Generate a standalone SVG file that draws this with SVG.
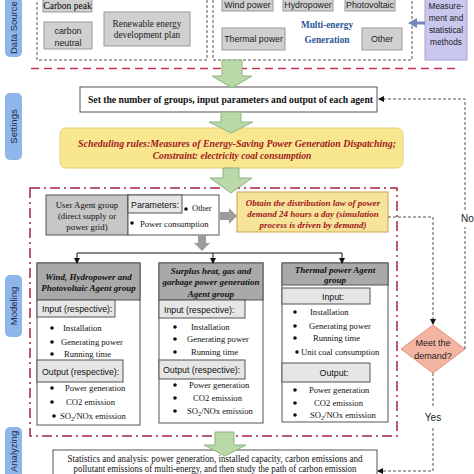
<svg xmlns="http://www.w3.org/2000/svg" width="474" height="474" viewBox="0 0 474 474">
<defs>
<style>
.serif{font-family:"Liberation Serif","Times New Roman",serif;}
.sans{font-family:"Liberation Sans",Arial,sans-serif;}
.side{fill:#8fb6ea;}
.sidet{font-family:"Liberation Sans",Arial,sans-serif;font-size:9.5px;fill:#1c2c48;}
.gbox{fill:#d0d0d0;stroke:#9a9a9a;stroke-width:1;}
.dot{fill:none;stroke:#555;stroke-width:1;stroke-dasharray:3,2;}
.green{fill:#b9d9a9;stroke:#8fb482;stroke-width:1;}
.grayarr{fill:#9c9c9c;}
.grp{fill:#fff;stroke:#555;stroke-width:1;}
.hdr{fill:#a9a9a9;stroke:#555;stroke-width:1;}
.lbl{fill:#e6e6e6;stroke:#555;stroke-width:1;}
.hdrt{font-family:"Liberation Serif","Times New Roman",serif;font-size:9px;font-weight:bold;font-style:italic;fill:#111;}
.lblt{font-family:"Liberation Sans",Arial,sans-serif;font-size:8.8px;fill:#111;}
.it{font-family:"Liberation Serif","Times New Roman",serif;font-size:8.6px;fill:#111;}
.red{font-family:"Liberation Serif","Times New Roman",serif;font-weight:bold;font-style:italic;fill:#a3171c;}
.fb{fill:none;stroke:#555;stroke-width:1;stroke-dasharray:3,2;}
</style>
<marker id="ah" markerWidth="6" markerHeight="6" refX="5" refY="3" orient="auto" markerUnits="userSpaceOnUse">
<path d="M0,0 L6,3 L0,6 Z" fill="#111"/>
</marker>
</defs>
<rect width="474" height="474" fill="#fff"/>

<!-- sidebars -->
<g id="side-data"><rect class="side" x="5" y="-10" width="17" height="67" rx="5"/><text class="sidet" transform="translate(16.5,54) rotate(-90)">Data Source</text></g>
<g id="side-settings"><rect class="side" x="5" y="93" width="17" height="67" rx="5"/><text class="sidet" text-anchor="middle" transform="translate(16.5,126.5) rotate(-90)">Settings</text></g>
<g id="side-modeling"><rect class="side" x="5" y="275" width="17" height="62" rx="5"/><text class="sidet" text-anchor="middle" transform="translate(16.5,306) rotate(-90)">Modeling</text></g>
<g id="side-analyzing"><rect class="side" x="5" y="427" width="17" height="60" rx="5"/><text class="sidet" transform="translate(16.5,472) rotate(-90)">Analyzing</text></g>

<!-- data sources -->
<g id="policy-group">
<rect class="dot" x="37" y="-5" width="170" height="65"/>
<g id="carbon-peak"><rect class="gbox" x="43" y="-5" width="49" height="17"/><text class="serif" x="67.5" y="8.5" font-size="9.5" text-anchor="middle">Carbon peak</text></g>
<g id="carbon-neutral"><rect class="gbox" x="44" y="22" width="48" height="27"/><text class="sans" x="68" y="34" font-size="8.8" text-anchor="middle" fill="#222">carbon</text><text class="sans" x="68" y="46" font-size="8.8" text-anchor="middle" fill="#222">neutral</text></g>
<g id="renewable-plan"><rect class="gbox" x="104" y="12" width="86" height="34"/><text class="serif" x="147" y="27" font-size="9.3" text-anchor="middle" fill="#222">Renewable energy</text><text class="serif" x="147" y="38" font-size="9.3" text-anchor="middle" fill="#222">development plan</text></g>
</g>
<g id="multi-energy">
<rect class="dot" x="213" y="-5" width="199" height="65"/>
<g id="wind"><rect class="gbox" x="222" y="-5" width="51" height="16"/><text class="sans" x="247.5" y="8.3" font-size="8.8" text-anchor="middle" fill="#222">Wind power</text></g>
<g id="hydro"><rect class="gbox" x="283" y="-5" width="50" height="16"/><text class="sans" x="308" y="8.3" font-size="8.8" text-anchor="middle" fill="#222">Hydropower</text></g>
<g id="pv"><rect class="gbox" x="345" y="-5" width="50" height="16"/><text class="sans" x="370" y="8.3" font-size="8.8" text-anchor="middle" fill="#222">Photovoltaic</text></g>
<g id="thermal"><rect class="gbox" x="222" y="28" width="63" height="22"/><text class="sans" x="253.5" y="42" font-size="8.8" text-anchor="middle" fill="#222">Thermal power</text></g>
<g id="other"><rect class="gbox" x="362" y="28" width="40" height="22"/><text class="sans" x="382" y="42" font-size="8.8" text-anchor="middle" fill="#222">Other</text></g>
<text class="serif" x="327" y="28" font-size="9.3" font-weight="bold" text-anchor="middle" fill="#2b5797">Multi-energy</text>
<text class="serif" x="327" y="43" font-size="9.3" font-weight="bold" text-anchor="middle" fill="#2b5797">Generation</text>
</g>
<g id="measurement"><rect x="425" y="-5" width="42" height="65" fill="#c9c7ee" stroke="#a5a2d4"/>
<text class="sans" font-size="8.3" fill="#222" text-anchor="middle"><tspan x="446" y="9">Measure-</tspan><tspan x="446" y="21">ment and</tspan><tspan x="446" y="33">statistical</tspan><tspan x="446" y="45">methods</tspan></text></g>

<line x1="31" y1="68.5" x2="460" y2="68.5" stroke="#c3344f" stroke-width="1.5" stroke-dasharray="8,5"/>

<!-- settings -->
<g id="set-box"><rect x="80" y="87" width="297" height="25" fill="#fff" stroke="#555"/>
<text class="serif" x="88" y="103" font-size="10.2" font-weight="bold" fill="#111" textLength="285" lengthAdjust="spacingAndGlyphs">Set the number of groups, input parameters and output of each agent</text></g>
<g id="rules-box"><rect x="60" y="128" width="343" height="40" rx="6" fill="#f8e78f" stroke="#e6cf78"/>
<text class="red" x="237" y="147" font-size="9.6" text-anchor="middle" textLength="318" lengthAdjust="spacingAndGlyphs">Scheduling rules:Measures of Energy-Saving Power Generation Dispatching;</text>
<text class="red" x="232" y="159" font-size="9.6" text-anchor="middle">Constraint: electricity coal consumption</text></g>

<!-- modeling -->
<rect x="30" y="188" width="367" height="248" fill="none" stroke="#a6233f" stroke-width="1.5" stroke-dasharray="10,4,2,4"/>
<g id="user-agent"><rect x="46" y="195" width="82" height="40" fill="#c6c6c6" stroke="#555"/>
<text class="serif" font-size="8.8" fill="#111" text-anchor="middle"><tspan x="87" y="208">User Agent group</tspan><tspan x="87" y="219">(direct supply or</tspan><tspan x="87" y="230">power grid)</tspan></text></g>
<g id="parameters"><rect x="128" y="195" width="91" height="40" fill="#fff" stroke="#555"/>
<rect class="lbl" x="128" y="195" width="54" height="18"/>
<text class="lblt" x="155" y="208" text-anchor="middle">Parameters:</text>
<circle cx="186" cy="209" r="1.8" fill="#111"/><text class="it" x="192" y="211" font-size="8.8">Other</text>
<circle cx="132" cy="223" r="1.8" fill="#111"/><text class="it" x="140" y="227" font-size="8.8">Power consumption</text></g>
<g id="obtain-box"><rect x="237" y="192" width="151" height="40" fill="#f6e49b" stroke="#c8a64c"/>
<text class="red" font-size="9" text-anchor="middle"><tspan x="313" y="206">Obtain the distribution law of power</tspan><tspan x="313" y="217">demand 24 hours a day (simulation</tspan><tspan x="313" y="228">process is driven by demand)</tspan></text></g>

<g id="group-wind">
<rect class="grp" x="37" y="263" width="103" height="162"/>
<rect class="hdr" x="37" y="263" width="103" height="37"/>
<text class="hdrt" text-anchor="middle"><tspan x="88.5" y="280">Wind, Hydropower and</tspan><tspan x="88.5" y="291">Photovoltaic Agent group</tspan></text>
<rect class="lbl" x="37" y="300" width="78" height="17"/><text class="lblt" x="42" y="312">Input (respective):</text>
<circle cx="52" cy="328" r="1.8" fill="#111"/><text class="it" x="63" y="331">Installation</text>
<circle cx="52" cy="342" r="1.8" fill="#111"/><text class="it" x="61" y="345">Generating power</text>
<circle cx="52" cy="354" r="1.8" fill="#111"/><text class="it" x="64" y="357">Running time</text>
<rect class="lbl" x="37" y="360" width="86" height="22"/><text class="lblt" x="42" y="375">Output (respective):</text>
<circle cx="52" cy="388" r="1.8" fill="#111"/><text class="it" x="65" y="391">Power generation</text>
<circle cx="52" cy="402" r="1.8" fill="#111"/><text class="it" x="66" y="405">CO2 emission</text>
<circle cx="54" cy="416" r="1.8" fill="#111"/><text class="it" x="60" y="419">SO<tspan font-size="6" dy="1.5">2</tspan><tspan dy="-1.5">/NOx emission</tspan></text>
</g>

<g id="group-surplus">
<rect class="grp" x="159" y="263" width="104" height="160"/>
<rect class="hdr" x="159" y="263" width="104" height="37"/>
<text class="hdrt" text-anchor="middle"><tspan x="211" y="274">Surplus heat, gas and</tspan><tspan x="211" y="285">garbage power generation</tspan><tspan x="211" y="297">Agent group</tspan></text>
<rect class="lbl" x="159" y="300" width="86" height="18"/><text class="lblt" x="164" y="313">Input (respective):</text>
<circle cx="175" cy="327" r="1.8" fill="#111"/><text class="it" x="191" y="330">Installation</text>
<circle cx="175" cy="339" r="1.8" fill="#111"/><text class="it" x="187" y="342">Generating power</text>
<circle cx="175" cy="352" r="1.8" fill="#111"/><text class="it" x="191" y="355">Running time</text>
<rect class="lbl" x="159" y="360" width="86" height="19"/><text class="lblt" x="163" y="373">Output (respective):</text>
<circle cx="175" cy="385" r="1.8" fill="#111"/><text class="it" x="189" y="388">Power generation</text>
<circle cx="175" cy="398" r="1.8" fill="#111"/><text class="it" x="193" y="401">CO2 emission</text>
<circle cx="175" cy="411" r="1.8" fill="#111"/><text class="it" x="187" y="414">SO<tspan font-size="6" dy="1.5">2</tspan><tspan dy="-1.5">/NOx emission</tspan></text>
</g>

<g id="group-thermal">
<rect class="grp" x="282" y="263" width="106" height="159"/>
<rect class="hdr" x="282" y="263" width="106" height="22"/>
<text class="hdrt" text-anchor="middle"><tspan x="335" y="273">Thermal power Agent</tspan><tspan x="335" y="283">group</tspan></text>
<rect class="lbl" x="282" y="288" width="88" height="16"/><text class="lblt" x="333" y="300" text-anchor="middle">Input:</text>
<circle cx="295" cy="312" r="1.8" fill="#111"/><text class="it" x="310" y="315">Installation</text>
<circle cx="295" cy="326" r="1.8" fill="#111"/><text class="it" x="309" y="329">Generating power</text>
<circle cx="295" cy="338" r="1.8" fill="#111"/><text class="it" x="313" y="341">Running time</text>
<circle cx="297" cy="352" r="1.8" fill="#111"/><text class="it" x="301" y="355">Unit coal consumption</text>
<rect class="lbl" x="282" y="363" width="88" height="19"/><text class="lblt" x="334" y="376" text-anchor="middle">Output:</text>
<circle cx="295" cy="390" r="1.8" fill="#111"/><text class="it" x="309" y="393">Power generation</text>
<circle cx="295" cy="403" r="1.8" fill="#111"/><text class="it" x="314" y="406">CO2 emission</text>
<circle cx="295" cy="415" r="1.8" fill="#111"/><text class="it" x="310" y="418">SO<tspan font-size="6" dy="1.5">2</tspan><tspan dy="-1.5">/NOx emission</tspan></text>
</g>

<g id="decision"><path d="M433,325 L465,349 L433,373 L401,349 Z" fill="#f4b4a2" stroke="#e28d7b"/>
<text class="sans" font-size="9" fill="#222" text-anchor="middle"><tspan x="433" y="346">Meet the</tspan><tspan x="433" y="359">demand?</tspan></text></g>

<g id="stats-box"><rect x="53" y="450" width="324" height="32" fill="#fff" stroke="#555"/>
<text class="serif" x="215" y="462" font-size="9.3" fill="#111" text-anchor="middle" textLength="295" lengthAdjust="spacingAndGlyphs">Statistics and analysis: power generation, installed capacity, carbon emissions and</text>
<text class="serif" x="215" y="472" font-size="9.3" fill="#111" text-anchor="middle" textLength="283" lengthAdjust="spacingAndGlyphs">pollutant emissions of multi-energy, and then study the path of carbon emission</text></g>

<!-- connectors -->
<g id="connectors">
<path d="M425,23 L416,23" stroke="#7388b5" stroke-width="3"/><path d="M408,23 L417,18 L417,28 Z" fill="#7388b5"/>
<path class="green" d="M222,60 L242,60 L242,76 L252,76 L232,88 L212,76 L222,76 Z"/>
<path class="green" d="M221,112 L241,112 L241,122 L253,122 L231,133 L209,122 L221,122 Z"/>
<path class="green" d="M223,168 L239,168 L239,178 L252,178 L231,193 L210,178 L223,178 Z"/>
<path class="green" d="M215,432 L234,432 L234,445 L246,445 L225,456 L204,445 L215,445 Z"/>
<path class="grayarr" d="M220,212 L229,212 L229,208 L237,216 L229,224 L229,220 L220,220 Z"/>
<path class="grayarr" d="M198,235 L206,235 L206,243 L210,243 L202,251 L194,243 L198,243 Z"/>
<path d="M77,253 L342,253" stroke="#111" stroke-width="1" fill="none"/>
<path d="M77,253 L77,263" stroke="#111" stroke-width="1" marker-end="url(#ah)"/>
<path d="M213,253 L213,263" stroke="#111" stroke-width="1" marker-end="url(#ah)"/>
<path d="M342,253 L342,263" stroke="#111" stroke-width="1" marker-end="url(#ah)"/>
<path class="fb" d="M388,217 L433,217 L433,324" marker-end="url(#ah)"/>
<path class="fb" d="M465,349 L465,227"/>
<path class="fb" d="M465,210 L465,99 L379,99" marker-end="url(#ah)"/>
<text class="sans" x="461" y="222" font-size="10" fill="#222">No</text>
<path class="fb" d="M433,373 L433,406"/>
<text class="sans" x="433" y="421" font-size="10" fill="#222" text-anchor="middle">Yes</text>
<path class="fb" d="M433,428 L433,471 L378,471" marker-end="url(#ah)"/>
</g>
</svg>
